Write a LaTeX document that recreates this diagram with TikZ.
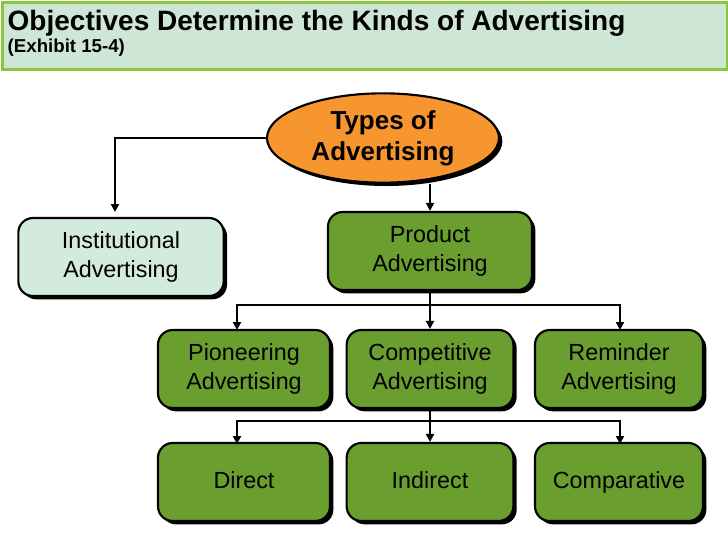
\documentclass[tikz,border=0pt]{standalone}
\usepackage{fontspec}
\setmainfont{Liberation Sans}
\usetikzlibrary{shapes.geometric,arrows.meta,shadows}
\definecolor{hdrfill}{HTML}{CDE6D5}
\definecolor{hdredge}{HTML}{8CC63F}
\definecolor{orng}{HTML}{F7962E}
\definecolor{grn}{HTML}{6A9E2E}
\definecolor{lgrn}{HTML}{D3EBDC}
\tikzset{
 box/.style={draw=black,line width=1.6pt,rounded corners=11pt,minimum width=#1,align=center,font=\fontsize{17.5}{21.5}\selectfont,
   drop shadow={shadow xshift=2.5pt,shadow yshift=-2.5pt,fill=black,opacity=1}},
 gbox/.style={box=#1,fill=grn,minimum height=58.5pt},
 one/.style={text height=13pt,text depth=3.5pt},
 conn/.style={line width=1.5pt},
 arr/.style={conn,-{Triangle[length=6pt,width=6pt]}}
}
\begin{document}
\begin{tikzpicture}[x=0.75pt,y=-0.75pt]
\useasboundingbox (0,0) rectangle (728,546);
\node[draw=hdredge,line width=2.2pt,fill=hdrfill,minimum width=544pt,minimum height=50pt,anchor=north west,inner sep=0] (hdr) at (1,1) {};
\node[anchor=west,font=\bfseries\fontsize{21}{24}\selectfont] (t1) at (3,23) {Objectives Determine the Kinds of Advertising};
\node[anchor=west,font=\bfseries\fontsize{14}{16}\selectfont] (t2) at (3,48) {(Exhibit 15-4)};
\node[ellipse,draw,line width=1.6pt,fill=orng,minimum width=174pt,minimum height=67pt,inner sep=0pt,align=center,font=\bfseries\fontsize{19.5}{23}\selectfont,
 drop shadow={shadow xshift=2.5pt,shadow yshift=-2.5pt,fill=black,opacity=1}] (types) at (383,138) {Types of\\Advertising};
\node[box=154pt,fill=lgrn,minimum height=58.5pt] (inst) at (121,257) {Institutional\\Advertising};
\node[gbox=153pt] (prod) at (430,251) {Product\\Advertising};
\node[gbox=129pt] (pion) at (244,369) {Pioneering\\Advertising};
\node[gbox=125pt] (comp) at (430,369) {Competitive\\Advertising};
\node[gbox=126pt] (rem) at (619,369) {Reminder\\Advertising};
\node[gbox=129pt,one] (dir) at (244,482) {Direct};
\node[gbox=125pt,one] (ind) at (430,482) {Indirect};
\node[gbox=126pt,one] (cmp) at (619,482) {Comparative};
\coordinate (j1) at (430,305);
\coordinate (j2) at (430,421);
\draw[arr] (types.west) -| (115,212);
\draw[arr] (types.south -| prod.north) -- (prod.north);
\draw[conn] (prod.south) -- (j1);
\draw[arr] (j1) -| (237,330);
\draw[arr] (j1) -- (comp.north);
\draw[arr] (j1) -| (620,330);
\draw[conn] (comp.south) -- (j2);
\draw[arr] (j2) -| (237,444);
\draw[arr] (j2) -- (ind.north);
\draw[arr] (j2) -| (620,444);
\end{tikzpicture}
\end{document}
